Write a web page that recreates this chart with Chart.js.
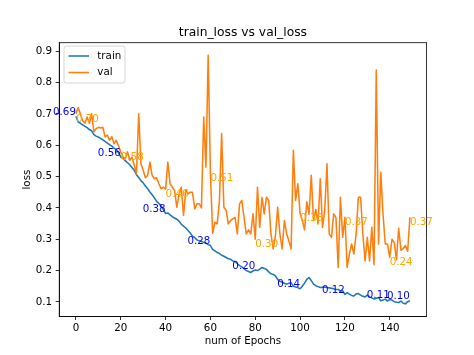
<!DOCTYPE html>
<html><head><meta charset="utf-8">
<script src="https://cdn.jsdelivr.net/npm/chart.js@4"></script>
<style>html,body{margin:0;padding:0;background:#fff;}</style>
</head><body>
<canvas id="c" width="474" height="355"></canvas>
<script>
const trainLoss = [
0.692,0.674,0.670,0.665,0.660,0.656,0.650,0.646,0.634,0.629,
0.626,0.622,0.617,0.612,0.607,0.602,0.597,0.591,0.586,0.576,
0.562,0.558,0.551,0.544,0.538,0.529,0.520,0.506,0.497,0.487,
0.480,0.470,0.461,0.451,0.442,0.432,0.421,0.414,0.406,0.395,
0.382,0.384,0.378,0.372,0.368,0.364,0.358,0.348,0.342,0.336,
0.328,0.320,0.310,0.305,0.298,0.295,0.293,0.290,0.288,0.283,
0.280,0.268,0.263,0.258,0.255,0.249,0.246,0.242,0.238,0.236,
0.231,0.229,0.222,0.216,0.212,0.206,0.200,0.197,0.194,0.199,
0.202,0.200,0.205,0.210,0.207,0.204,0.196,0.190,0.188,0.183,
0.172,0.166,0.163,0.160,0.157,0.160,0.161,0.151,0.148,0.146,
0.142,0.150,0.160,0.172,0.178,0.168,0.157,0.152,0.149,0.146,
0.147,0.148,0.146,0.145,0.144,0.142,0.140,0.140,0.135,0.136,
0.124,0.130,0.125,0.121,0.119,0.126,0.127,0.122,0.118,0.116,
0.122,0.116,0.113,0.109,0.112,0.114,0.104,0.106,0.109,0.103,
0.108,0.106,0.101,0.099,0.098,0.103,0.096,0.094,0.101,0.104
];
const valLoss = [
0.700,0.720,0.700,0.678,0.670,0.690,0.670,0.700,0.643,0.653,
0.657,0.655,0.657,0.627,0.632,0.616,0.627,0.605,0.616,0.598,
0.578,0.562,0.557,0.579,0.552,0.562,0.536,0.509,0.700,0.541,
0.520,0.496,0.504,0.546,0.504,0.493,0.496,0.477,0.461,0.466,
0.460,0.546,0.477,0.466,0.456,0.402,0.445,0.466,0.376,0.458,
0.445,0.450,0.450,0.397,0.413,0.413,0.400,0.690,0.530,0.887,
0.510,0.319,0.354,0.349,0.420,0.637,0.402,0.392,0.349,0.360,
0.365,0.370,0.317,0.413,0.424,0.370,0.317,0.330,0.317,0.381,
0.300,0.466,0.338,0.434,0.381,0.434,0.424,0.317,0.269,0.311,
0.402,0.317,0.269,0.360,0.317,0.295,0.269,0.584,0.424,0.477,
0.383,0.360,0.330,0.420,0.380,0.504,0.360,0.395,0.349,0.493,
0.338,0.392,0.541,0.317,0.306,0.381,0.370,0.210,0.434,0.306,
0.370,0.210,0.253,0.285,0.253,0.317,0.434,0.434,0.317,0.231,
0.306,0.231,0.338,0.219,0.840,0.285,0.514,0.381,0.285,0.285,
0.242,0.300,0.290,0.235,0.335,0.265,0.270,0.280,0.262,0.370
];
const xTicks = [0,20,40,60,80,100,120,140];
const yTicks = [0.1,0.2,0.3,0.4,0.5,0.6,0.7,0.8,0.9];
const annotEpochs = [0,20,40,60,80,100,120,140,149];
const seriesNames = ['train','val'];
const seriesColors = ['#1f77b4','#ff7f0e'];
const annotColors = ['#0000ff','#ffa500'];
const titleText = 'train_loss vs val_loss';
const xLabel = 'num of Epochs';
const yLabel = 'loss';

const FONT = '"DejaVu Sans", sans-serif';
const FS = 10.3;

const overlay = {
  id: 'overlay',
  afterDatasetsDraw(chart) {
    const {ctx, scales: {x, y}} = chart;
    ctx.save();
    ctx.font = FS + 'px ' + FONT;
    annotEpochs.forEach(e => {
      const px = x.getPixelForValue(e);
      ctx.fillStyle = annotColors[0];
      ctx.textAlign = 'right'; ctx.textBaseline = 'bottom';
      ctx.fillText(trainLoss[e].toFixed(2), px, y.getPixelForValue(trainLoss[e]) + 1);
      ctx.fillStyle = annotColors[1];
      ctx.textAlign = 'left'; ctx.textBaseline = 'top';
      ctx.fillText(valLoss[e].toFixed(2), px, y.getPixelForValue(valLoss[e]));
    });
    ctx.restore();
  },
  afterDraw(chart) {
    const {ctx, chartArea: a} = chart;
    ctx.save();
    // spines
    ctx.strokeStyle = '#000'; ctx.lineWidth = 0.8;
    ctx.strokeRect(a.left, a.top, a.right - a.left, a.bottom - a.top);
    const cx = (a.left + a.right) / 2;
    // title
    ctx.fillStyle = '#000';
    ctx.font = '12.3px ' + FONT;
    ctx.textAlign = 'center'; ctx.textBaseline = 'alphabetic';
    ctx.fillText(titleText, cx, a.top - 6.5);
    // axis labels
    ctx.font = FS + 'px ' + FONT;
    ctx.textBaseline = 'middle';
    ctx.fillText(xLabel, cx, 341.5);
    ctx.save();
    ctx.translate(27, (a.top + a.bottom) / 2);
    ctx.rotate(-Math.PI / 2);
    ctx.fillText(yLabel, 0, 0);
    ctx.restore();
    // legend
    const lx = 64, ly = 46, lw = 61, lh = 37, r = 2.5;
    ctx.beginPath();
    ctx.moveTo(lx + r, ly); ctx.lineTo(lx + lw - r, ly);
    ctx.quadraticCurveTo(lx + lw, ly, lx + lw, ly + r);
    ctx.lineTo(lx + lw, ly + lh - r);
    ctx.quadraticCurveTo(lx + lw, ly + lh, lx + lw - r, ly + lh);
    ctx.lineTo(lx + r, ly + lh);
    ctx.quadraticCurveTo(lx, ly + lh, lx, ly + lh - r);
    ctx.lineTo(lx, ly + r);
    ctx.quadraticCurveTo(lx, ly, lx + r, ly);
    ctx.closePath();
    ctx.fillStyle = 'rgba(255,255,255,0.8)'; ctx.fill();
    ctx.strokeStyle = '#cccccc'; ctx.lineWidth = 0.8; ctx.stroke();
    seriesNames.forEach((n, i) => {
      const ry = 56 + i * 16.5;
      ctx.strokeStyle = seriesColors[i]; ctx.lineWidth = 1.55;
      ctx.beginPath(); ctx.moveTo(68.5, ry); ctx.lineTo(89, ry); ctx.stroke();
      ctx.fillStyle = '#000'; ctx.textAlign = 'left'; ctx.textBaseline = 'middle';
      ctx.fillText(n, 97.3, ry);
    });
    ctx.restore();
  }
};

const tickFont = {family: FONT, size: FS};
new Chart(document.getElementById('c'), {
  type: 'line',
  data: {
    datasets: [
      {label: seriesNames[0], data: trainLoss.map((v, i) => ({x: i, y: v})),
       borderColor: seriesColors[0], borderWidth: 1.55, pointRadius: 0, tension: 0,
       borderJoinStyle: 'round', fill: false, order: 1},
      {label: seriesNames[1], data: valLoss.map((v, i) => ({x: i, y: v})),
       borderColor: seriesColors[1], borderWidth: 1.55, pointRadius: 0, tension: 0,
       borderJoinStyle: 'round', fill: false, order: 0}
    ]
  },
  options: {
    responsive: false, animation: false, devicePixelRatio: 1,
    layout: {padding: {top: 42.7, right: 47.4, left: 0, bottom: 0}},
    plugins: {legend: {display: false}, tooltip: {enabled: false}, title: {display: false}},
    scales: {
      x: {
        type: 'linear', min: -7.45, max: 156.45,
        afterBuildTicks: s => { s.ticks = xTicks.map(v => ({value: v})); },
        afterFit: s => { s.height = 38.6; },
        ticks: {font: tickFont, color: '#000', padding: 2.5, maxRotation: 0, autoSkip: false,
                callback: v => String(v)},
        grid: {display: true, drawOnChartArea: false, drawTicks: true, tickLength: 3.6,
               color: '#000', lineWidth: 0.8},
        border: {display: true, color: '#000', width: 0.8}
      },
      y: {
        type: 'linear', min: 0.054, max: 0.927,
        afterBuildTicks: s => { s.ticks = yTicks.map(v => ({value: v})); },
        afterFit: s => { s.width = 59.25; },
        ticks: {font: tickFont, color: '#000', padding: 3.6, autoSkip: false,
                callback: v => v.toFixed(1)},
        grid: {display: true, drawOnChartArea: false, drawTicks: true, tickLength: 3.6,
               color: '#000', lineWidth: 0.8},
        border: {display: true, color: '#000', width: 0.8}
      }
    }
  },
  plugins: [overlay]
});
</script>
</body></html>
